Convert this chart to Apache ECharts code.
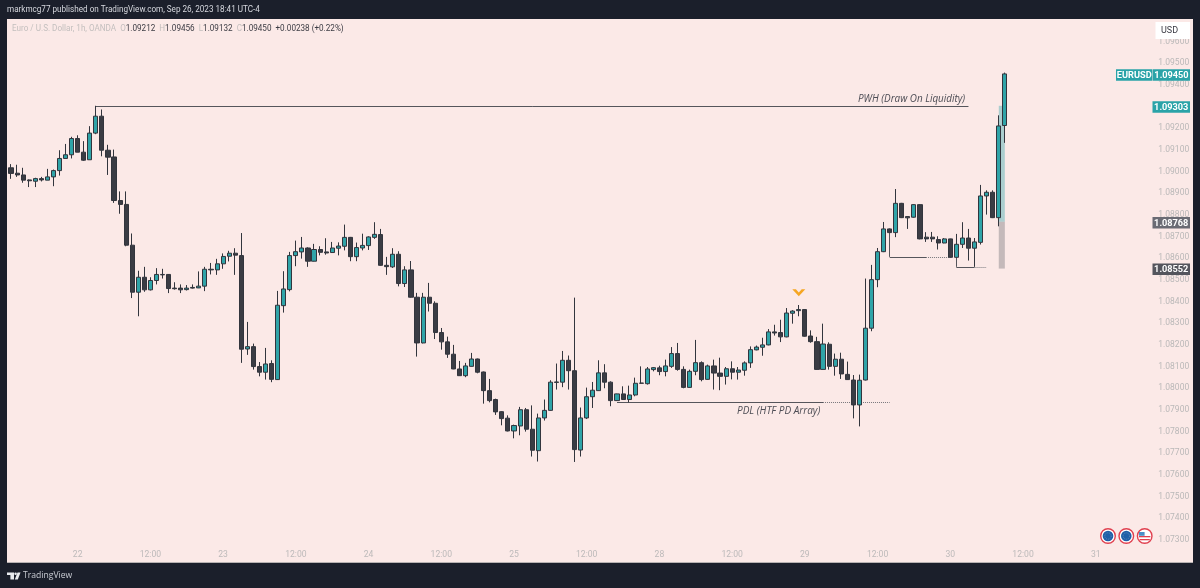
<!DOCTYPE html>
<html><head><meta charset="utf-8">
<style>html,body{margin:0;padding:0;background:#1b1f2b}#c{width:1200px;height:588px}</style>
<script src="https://cdn.jsdelivr.net/npm/echarts@6/dist/echarts.min.js"></script>
</head><body><div id="c"></div>
<script>
// Prices in 1/100000 of a dollar, bar by bar (1h EUR/USD)
const opens=[109017,108992,108984,108961,108955,108967,108960,108975,109004,109060,109077,109152,109089,109054,109177,109255,109098,109067,108866,108848,108660,108443,108512,108454,108497,108523,108525,108462,108462,108455,108462,108463,108471,108549,108546,108574,108609,108623,
108612,108181,108192,108100,108074,108114,108040,108381,108455,108612,108629,108647,108586,108640,108629,108626,108646,108655,108696,108607,108647,108658,108696,108709,108567,108560,108618,108483,108546,108420,108209,108420,108392,108257,108214,108157,108089,108058,108101,108135,
108075,107989,107948,107892,107862,107803,107826,107901,107811,107712,107863,107898,108029,108028,108129,108081,107715,107863,107961,107989,108071,108028,107943,107974,107948,107969,
108024,108021,108086,108094,108077,108101,108160,108087,108004,108078,108118,108041,108103,108070,108055,108090,108074,108083,108117,108177,108189,108200,108260,108257,108237,108346,108358,108363,108241,108215,108087,108203,108101,108134,108064,108038,107923,108038,
108277,108501,108630,108735,108718,108853,108792,108789,108847,108697,108697,108686,108670,108689,108604,108664,108693,108646,108673,108887,108904,108787,109212];
const closes=[108991,108984,108960,108957,108967,108961,108975,109004,109060,109077,109152,109089,109052,109177,109255,109098,109066,108866,108848,108660,108443,108512,108454,108497,108525,108525,108460,108459,108454,108462,108465,108471,108549,108546,108574,108608,108623,108614,
108180,108192,108100,108074,108112,108041,108383,108458,108612,108630,108647,108586,108640,108627,108624,108647,108656,108696,108607,108649,108659,108698,108710,108567,108561,108618,108483,108546,108420,108209,108420,108392,108257,108214,108157,108089,108058,108103,108135,108074,
107989,107943,107891,107860,107803,107828,107901,107811,107714,107863,107898,108028,108027,108129,108081,107717,107863,107961,107991,108071,108028,107943,107974,107948,107969,108023,
108023,108089,108095,108077,108103,108160,108087,108004,108078,108118,108040,108103,108070,108055,108090,108074,108084,108117,108178,108190,108200,108260,108255,108237,108347,108356,108363,108240,108215,108087,108204,108101,108134,108066,108040,107923,108037,108277,
108501,108630,108735,108718,108853,108787,108786,108847,108689,108689,108689,108670,108689,108604,108664,108693,108646,108675,108887,108904,108787,109210,109450];
const lows=[108966,108975,108948,108928,108928,108954,108960,108932,108981,109060,109060,109089,109049,109054,109172,109070,108984,108855,108805,108655,108416,108332,108445,108451,108479,108506,108439,108455,108439,108451,108460,108462,108448,108525,108523,108551,108585,108523,
108117,108154,108086,108055,108040,108028,108038,108349,108447,108563,108598,108560,108585,108613,108616,108624,108613,108636,108586,108586,108636,108638,108689,108565,108523,108555,108470,108467,108418,108146,108207,108354,108227,108178,108140,108088,108057,108051,108100,108069,
107929,107935,107877,107829,107801,107769,107783,107800,107685,107662,107851,107896,107994,108005,107994,107660,107685,107858,107909,107988,108000,107917,107942,107947,107935,107963,
108022,108017,108078,108060,108055,108094,108081,108000,108003,108060,108032,108040,107994,107991,108017,108041,108040,108058,108094,108175,108150,108198,108243,108213,108235,108298,108332,108238,108210,108086,108086,108086,108058,108043,108039,107861,107824,108036,
108263,108466,108628,108716,108697,108785,108735,108787,108687,108675,108675,108640,108669,108602,108602,108647,108589,108560,108663,108801,108785,108747,109132];
const highs=[109034,109031,109017,108963,108971,108975,109012,109009,109098,109127,109160,109167,109140,109209,109303,109286,109123,109101,108908,108908,108714,108542,108560,108512,108554,108551,108527,108489,108479,108476,108479,108539,108560,108578,108597,108622,108634,108646,
108716,108306,108206,108121,108186,108129,108449,108540,108629,108681,108698,108650,108666,108655,108692,108675,108673,108755,108698,108672,108713,108701,108766,108735,108606,108646,108632,108563,108587,108440,108440,108486,108401,108278,108238,108200,108126,108117,108163,108137,
108077,108043,107952,107894,107875,107832,107914,107909,107921,107883,107948,108037,108114,108172,108151,108418,107911,108003,108029,108129,108111,108032,107975,108009,108012,108049,
108101,108098,108098,108104,108132,108190,108209,108101,108086,108223,108124,108109,108132,108141,108098,108124,108098,108124,108193,108197,108233,108273,108293,108316,108370,108360,108384,108364,108267,108237,108298,108212,108160,108164,108123,108061,108063,108506,
108569,108647,108767,108737,108919,108855,108793,108849,108849,108720,108721,108701,108693,108690,108712,108766,108735,108693,108938,108913,108913,109259,109456];
const tickLabels=['22','12:00','23','12:00','24','12:00','25','12:00','28','12:00','29','12:00','30','12:00','31'];
const firstTickBar=11, barsPerTick=12, totalSlots=189;
const yTicksMin=1.073, yTicksMax=1.096;
const prevWeekHigh=1.09303, prevDayLow=1.07935;
const swingLow1=1.08606, swingLow2=1.08560;
const positionEntry=1.08768, positionStop=1.08552;
const lastClose=1.09450;
const headerText='markmcg77 published on TradingView.com, Sep 26, 2023 18:41 UTC-4';

const P=v=>v/100000;
const categories=Array.from({length:totalSlots},(_,i)=>{
  const k=(i-firstTickBar)/barsPerTick;
  return Number.isInteger(k)&&tickLabels[k]?tickLabels[k]:'';
});
const candleData=opens.map((o,i)=>[P(o),P(closes[i]),P(lows[i]),P(highs[i])]);

const TEAL='#2fa4a8',DARK='#3a3c44',LINE='#55555b',TXT='#4d4d55';
const solid={type:'solid',width:1,color:LINE};
const dotted={type:'dotted',width:1,color:'#77777c'};
const seg=(a,b,y,ls,y2)=>[{coord:[a,y],lineStyle:ls},{coord:[b,y2===undefined?y:y2]}];

const ZL=1;
const priceTag=(x,y,w,h,fill,text,color)=>({type:'group',children:[
 {type:'rect',zlevel:ZL,z:60,shape:{x,y:y-h/2,width:w,height:h},style:{fill}},
 {type:'text',zlevel:ZL,z:61,style:{x:x+w/2,y:y+.5,text,fill:color,font:'bold 9.2px Roboto, sans-serif',align:'center',verticalAlign:'middle'}}
]});
const euFlag=cx=>({type:'group',children:[
 {type:'circle',z:60,shape:{cx,cy:536,r:7.3},style:{fill:'#fff',stroke:'#e0404f',lineWidth:1.4}},
 {type:'circle',z:61,shape:{cx,cy:536,r:5.3},style:{fill:'#1f5fa8'}},
 {type:'circle',z:62,shape:{cx,cy:536,r:3.2},style:{fill:'none',stroke:'#6e93b8',lineWidth:.8,lineDash:[1,1]}}
]});

const graphic=[
 {type:'rect',z:0,silent:true,shape:{x:7,y:19,width:1186,height:544},style:{fill:'#fbe9e7'}},
 {type:'rect',z:0,silent:true,shape:{x:7,y:562,width:1186,height:1},style:{fill:'#b8b2b2'}},
 {type:'text',z:60,style:{x:7,y:10,text:headerText,fill:'#d6d8de',font:'8.15px Roboto, sans-serif',verticalAlign:'middle'}},
 {type:'text',z:60,style:{x:12,y:28.5,verticalAlign:'middle',font:'8.15px Roboto, sans-serif',
   text:'{g|Euro / U.S. Dollar, 1h, OANDA}  {g|O}{v|1.09212}  {g|H}{v|1.09456}  {g|L}{v|1.09132}  {g|C}{v|1.09450}  {v|+0.00238 (+0.22%)}',
   rich:{g:{fill:'#c3bfbe',font:'8.15px Roboto, sans-serif'},v:{fill:'#3c3c44',font:'8.15px Roboto, sans-serif'}}}},
 {type:'rect',zlevel:ZL,z:55,shape:{x:1155.5,y:22,width:34.5,height:17},style:{fill:'#fff'}},
 {type:'text',zlevel:ZL,z:60,style:{x:1161,y:30.5,text:'USD',fill:'#3b3b44',font:'9px Roboto, sans-serif',verticalAlign:'middle'}},
 {type:'text',z:60,style:{x:858,y:99,text:'PWH (Draw On Liquidity)',fill:TXT,font:'italic 9.9px "Open Sans", sans-serif',verticalAlign:'middle'}},
 {type:'text',z:60,style:{x:737,y:411,text:'PDL (HTF PD Array)',fill:TXT,font:'italic 10px "Open Sans", sans-serif',verticalAlign:'middle'}},
 priceTag(1116,75,36.5,11.5,'#2aa3a8','EURUSD','#fff'),
 priceTag(1153,75,37,11.5,'#2aa3a8','1.09450','#fff'),
 priceTag(1152.5,107,37.5,11.5,'#2aa3a8','1.09303','#fff'),
 priceTag(1152.5,222.8,37.5,11.5,'#6a6b74','1.08768','#fff'),
 priceTag(1152.5,269.3,37.5,11.5,'#54555d','1.08552','#fff'),
 euFlag(1108),euFlag(1126.3),
 {type:'group',children:[
  {type:'circle',z:60,shape:{cx:1144.7,cy:536,r:7.3},style:{fill:'#fff',stroke:'#e0404f',lineWidth:1.4}},
  {type:'rect',z:61,shape:{x:1139,y:536,width:11.4,height:1.3},style:{fill:'#e0404f'}},
  {type:'rect',z:61,shape:{x:1139.6,y:539,width:10.2,height:1.3},style:{fill:'#e0404f'}},
  {type:'rect',z:61,shape:{x:1139,y:532,width:5.6,height:3.8},style:{fill:'#4a90c8'}}
 ]},
 {type:'polygon',z:60,shape:{points:[[7,572.5],[14,572.5],[14,579.5],[10.4,579.5],[10.4,575],[7,575]]},style:{fill:'#e9ebef'}},
 {type:'circle',z:60,shape:{cx:15.6,cy:573.8,r:1.3},style:{fill:'#e9ebef'}},
 {type:'polygon',z:60,shape:{points:[[17.5,572.5],[20.5,572.5],[17.8,579.5],[14.8,579.5]]},style:{fill:'#e9ebef'}},
 {type:'text',z:60,style:{x:23,y:576,text:'TradingView',fill:'#c9ccd3',font:'8.6px "Open Sans", sans-serif',verticalAlign:'middle'}}
];

const chart=echarts.init(document.getElementById('c'),null,{renderer:'canvas'});
chart.setOption({
 animation:false,
 backgroundColor:'#1b1f2b',
 graphic,
 grid:{left:8,width:1145.3,top:41.4,height:498.6,containLabel:false},
 xAxis:{type:'category',data:categories,boundaryGap:true,
  axisLine:{show:false},axisTick:{show:false},splitLine:{show:false},
  axisLabel:{show:true,interval:(i,v)=>v!=='',hideOverlap:false,margin:10,fontSize:8.6,color:'#bdbaba',fontFamily:'Roboto, sans-serif'}},
 yAxis:{type:'value',position:'right',min:yTicksMin,max:yTicksMax,interval:0.001,scale:true,
  axisLine:{show:false},axisTick:{show:false},splitLine:{show:false},
  axisLabel:{margin:5,fontSize:8.5,color:'#bab8b8',fontFamily:'Roboto, sans-serif',formatter:v=>v.toFixed(5)}},
 series:[{
  type:'candlestick',data:candleData,barWidth:4.6,clip:false,z:5,
  itemStyle:{color:TEAL,color0:DARK,borderColor:'#32353d',borderColor0:'#32353d',borderColorDoji:'#32353d',borderWidth:1},
  markArea:{silent:true,z:1,data:[
   [{coord:[163,prevWeekHigh],itemStyle:{color:'rgba(42,163,168,0.38)'}},{coord:[164,positionEntry]}],
   [{coord:[163,positionEntry],itemStyle:{color:'rgba(120,120,125,0.42)'}},{coord:[164,positionStop]}]
  ]},
  markLine:{silent:true,symbol:'none',z:3,label:{show:false},data:[
   seg(14,158,prevWeekHigh,solid),
   seg(100,134,prevDayLow,solid),
   seg(134,145,prevDayLow,dotted),
   seg(145,145,1.08718,solid,swingLow1),
   seg(145,151,swingLow1,solid),
   seg(151,155,swingLow1,dotted),
   seg(156,156,1.08604,solid,swingLow2),
   seg(156,159,swingLow2,solid),
   seg(159,161,swingLow2,dotted)
  ]},
  markPoint:{silent:true,label:{show:false},z:8,data:[{
    coord:[130,1.0844],symbol:'path://M0 0 L3.6 0 L6.5 3.2 L9.4 0 L13 0 L6.5 7 Z',symbolSize:[13,7],
    itemStyle:{color:'#f5a623'}}]}
 }]
});
</script></body></html>
